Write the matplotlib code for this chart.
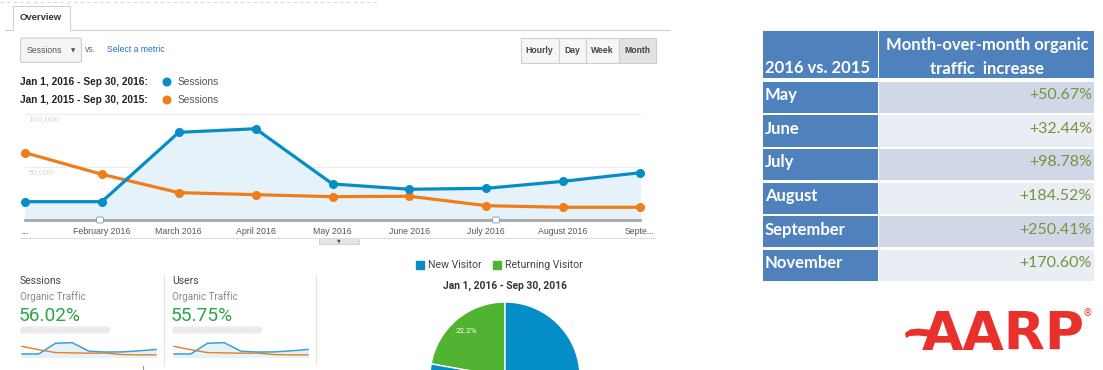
import numpy as np
import matplotlib
matplotlib.use('Agg')
import matplotlib.pyplot as plt
from matplotlib.patches import Rectangle, FancyBboxPatch, Circle, Polygon

W, H = 1103, 370

# Google Analytics monthly sessions
months = ['...', 'February 2016', 'March 2016', 'April 2016', 'May 2016',
          'June 2016', 'July 2016', 'August 2016', 'Septe...']
sessions_2016 = [17300, 17300, 82700, 86100, 34000, 29000, 29900, 36500, 44600]
sessions_2015 = [63500, 43100, 25800, 23900, 22000, 22400, 13500, 12000, 12000]
range_2016 = 'Jan 1, 2016 - Sep 30, 2016:'
range_2015 = 'Jan 1, 2015 - Sep 30, 2015:'

visitor_labels = ['Returning Visitor', 'New Visitor']
visitor_share = [22.2, 77.8]

kpi_titles = ['Sessions', 'Users']
kpi_values = ['56.02%', '55.75%']

table_head = ['2016 vs. 2015', 'Month-over-month organic', 'traffic  increase']
table_months = ['May', 'June', 'July', 'August', 'September', 'November']
table_values = ['+50.67%', '+32.44%', '+98.78%', '+184.52%', '+250.41%', '+170.60%']

BLUE = '#058dc7'
ORANGE = '#ef7d1a'
GREEN = '#50b432'
GA_FONT = 'Liberation Sans'

fig = plt.figure(figsize=(W / 100, H / 100), dpi=100)


def px_axes(x0, y0, x1, y1):
    return fig.add_axes([x0 / W, 1 - y1 / H, (x1 - x0) / W, (y1 - y0) / H])


bg = fig.add_axes([0, 0, 1, 1])
bg.set_xlim(0, W)
bg.set_ylim(H, 0)
bg.axis('off')

# ---- header of the GA panel
bg.plot([0, 380], [2, 2], color='#d8d8d8', lw=0.8, ls=(0, (3, 3)))
bg.plot([5, 13], [29.5, 29.5], color='#d0d0d0', lw=0.8)
bg.plot([70, 670], [29.5, 29.5], color='#d0d0d0', lw=0.8)
bg.plot([13, 13, 70, 70], [29.5, 6, 6, 29.5], color='#d0d0d0', lw=0.8)
bg.text(20, 18, 'Overview', fontsize=6.8, fontweight='bold', color='#333',
        va='center', family=GA_FONT)

bg.add_patch(FancyBboxPatch((20.5, 38), 61, 24.5, boxstyle='round,pad=0,rounding_size=2',
                            fc='#f4f4f4', ec='#cfcfcf', lw=0.8))
bg.text(27, 50.5, 'Sessions', fontsize=6.2, color='#555', va='center', family=GA_FONT)
bg.text(73, 50.5, '\u25BC', fontsize=4, color='#555', va='center', ha='center')
bg.text(85, 49.5, 'vs.', fontsize=6.2, color='#666', va='center', family=GA_FONT)
bg.text(107, 50, 'Select a metric', fontsize=6.2, color='#2a6ebb', va='center', family=GA_FONT)

buttons = ['Hourly', 'Day', 'Week', 'Month']
edges = [520.5, 558.5, 585.5, 618.5, 656]
for i, b in enumerate(buttons):
    bg.add_patch(Rectangle((edges[i], 38), edges[i + 1] - edges[i], 24.5,
                           fc='#e2e2e2' if b == 'Month' else '#f6f6f6', ec='#cfcfcf', lw=0.8))
    bg.text((edges[i] + edges[i + 1]) / 2, 50.5, b, fontsize=6.2, fontweight='bold',
            color='#444', ha='center', va='center', family=GA_FONT)

for y, lab, c in [(82, range_2016, BLUE), (100, range_2015, ORANGE)]:
    bg.text(20, y, lab, fontsize=7.3, fontweight='bold', color='#222', va='center', family=GA_FONT)
    bg.add_patch(Circle((167, y), 3.8, color=c))
    bg.text(178, y, 'Sessions', fontsize=7.3, color='#555', va='center', family=GA_FONT)

# ---- main line chart
x = np.arange(len(months))
ax = px_axes(25, 114, 640, 220)
ax.set_xlim(0, len(months) - 1)
ax.set_ylim(0, 100000)
ax.axhline(50000, color='#ececec', lw=0.8, zorder=0)
ax.axhline(100000, color='#ececec', lw=0.8, zorder=0, clip_on=False)
ax.fill_between(x, sessions_2016, 0, color='#e5f2f9', zorder=1)
ax.plot(x, sessions_2015, color=ORANGE, lw=2.3, marker='o', ms=5.5, clip_on=False, zorder=3)
ax.plot(x, sessions_2016, color=BLUE, lw=2.3, marker='o', ms=5.5, clip_on=False, zorder=4)
for s in ['top', 'left', 'right']:
    ax.spines[s].set_visible(False)
ax.spines['bottom'].set_color('#a8a8a8')
ax.spines['bottom'].set_linewidth(2)
ax.set_yticks([])
ax.set_xticks(x, months)
ax.tick_params(axis='x', length=0, pad=5, labelsize=6.3, labelcolor='#555')
for t in ax.get_xticklabels():
    t.set_family(GA_FONT)
ax.patch.set_alpha(0)

bg.text(28, 116, '100,000', fontsize=6, color='#d6d6d6', va='top', family=GA_FONT)
bg.text(28, 169, '50,000', fontsize=6, color='#d6d6d6', va='top', family=GA_FONT)
bg.plot([20, 655], [237.5, 237.5], color='#dddddd', lw=0.8)
bg.add_patch(Rectangle((318.5, 237.5), 40, 6.5, fc='#e4e4e4', ec='#cccccc', lw=0.6))
bg.text(338.5, 240.5, '\u25BC', fontsize=3.5, color='#555', ha='center', va='center')

fg = fig.add_axes([0, 0, 1, 1], zorder=10)
fg.set_xlim(0, W)
fg.set_ylim(H, 0)
fg.axis('off')
for xi in [100, 496]:
    fg.add_patch(FancyBboxPatch((xi - 3.5, 217), 7, 6, boxstyle='round,pad=0,rounding_size=1.5',
                                fc='white', ec='#8aa4c0', lw=0.7))

# ---- KPI tiles with sparklines
for i, (title, val) in enumerate(zip(kpi_titles, kpi_values)):
    x0 = 20 + i * 152
    bg.text(x0, 281, title, fontsize=7.5, color='#444', va='center', family='Roboto')
    bg.text(x0, 297, 'Organic Traffic', fontsize=7.1, color='#888', va='center', family='Roboto')
    bg.text(x0 - 1, 316, val, fontsize=13.8, color='#2aa44a', va='center', family='Roboto')
    bg.add_patch(FancyBboxPatch((x0, 326.5), 90, 7, boxstyle='round,pad=0,rounding_size=3',
                                fc='#ebebeb', ec='none'))
    sp = px_axes(x0 + 2, 340.4, x0 + 136, 356.8)
    sp.set_xlim(0, len(months) - 1)
    sp.set_ylim(0, 100000)
    sp.fill_between(x, sessions_2016, 0, color='#e5f2f9')
    sp.plot(x, sessions_2015, color=ORANGE, lw=1.0, clip_on=False)
    sp.plot(x, sessions_2016, color='#3aa0d8', lw=1.1, clip_on=False)
    sp.axis('off')
for xd in [164, 316]:
    bg.plot([xd, xd], [275, 365], color='#e2e2e2', lw=0.8)
bg.plot([143, 143], [366, 370], color='#999', lw=0.8)

# ---- pie chart
legend_x = [416, 493]
for lx, lab, c in zip(legend_x, ['New Visitor', 'Returning Visitor'], [BLUE, GREEN]):
    bg.add_patch(Rectangle((lx, 261), 8, 8, color=c))
    bg.text(lx + 12, 265.5, lab, fontsize=7.6, color='#444', va='center', family='Roboto')
bg.text(505, 285.5, 'Jan 1, 2016 - Sep 30, 2016', fontsize=7.4, fontweight='bold',
        color='#333', ha='center', va='center', family='Roboto')

pa = px_axes(430, 302, 580, 452)
pa.pie(visitor_share, colors=[GREEN, BLUE], startangle=90, counterclock=True,
       wedgeprops=dict(edgecolor='white', linewidth=1),
       autopct=lambda p: f'{p:.1f}%' if p < 50 else '', pctdistance=0.8,
       textprops=dict(color='white', fontsize=5.8, family='Roboto'))
pa.set_xlim(-1, 1)
pa.set_ylim(-1, 1)

# ---- comparison table
HEAD_BLUE = '#4f81bd'
row_fill = ['#d0d8e8', '#e9edf4']
TF = 'Lato'
bg.add_patch(Rectangle((762.5, 30.5), 115, 47.5, fc=HEAD_BLUE, ec='none'))
bg.add_patch(Rectangle((879, 30.5), 215, 47.5, fc=HEAD_BLUE, ec='none'))
bg.text(765, 68, table_head[0], fontsize=12, fontweight='bold', color='white',
        va='center', family=TF)
bg.text(987, 45, table_head[1], fontsize=12, fontweight='bold', color='white',
        ha='center', va='center', family=TF)
bg.text(987, 68.5, table_head[2], fontsize=12, fontweight='bold', color='white',
        ha='center', va='center', family=TF)
for i, (m, v) in enumerate(zip(table_months, table_values)):
    top = 81.7 + i * 33.6
    bg.add_patch(Rectangle((762.5, top), 115, 31.3, fc=HEAD_BLUE, ec='none'))
    bg.add_patch(Rectangle((879, top), 215, 31.3, fc=row_fill[i % 2], ec='none'))
    bg.text(765, top + 13.5, m, fontsize=12, fontweight='bold', color='white',
            va='center', family=TF)
    bg.text(1092, top + 13.5, v, fontsize=11.5, color='#77933c', ha='right',
            va='center', family=TF)

# ---- AARP logo
RED = '#e8302c'
bg.text(922, 350, 'AARP', fontsize=38.5, fontweight='bold', color=RED,
        va='baseline', ha='left', family='DejaVu Sans')
bg.add_patch(Polygon([(905, 333), (910, 329.5), (918, 328.5), (932, 330),
                      (932, 337), (918, 335.5), (910, 336), (906, 338)],
                     closed=True, fc=RED, ec='none'))
t = np.linspace(0, 1, 30)
bg.plot(918 + 70 * t, 341.5 + 2.5 * np.sin(np.pi * t) - 2 * t, color='white', lw=1.4)
bg.text(1088, 313, '\u00AE', fontsize=7, color=RED, ha='center', va='center')

fig.savefig('out.png', dpi=100)
